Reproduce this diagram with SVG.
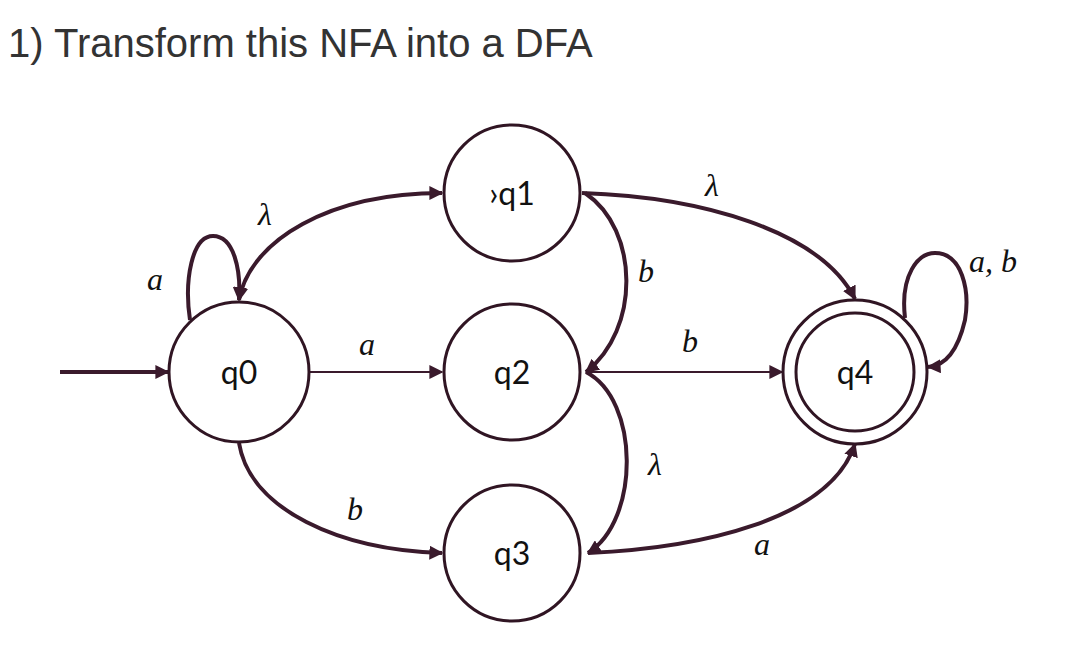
<svg xmlns="http://www.w3.org/2000/svg" width="1066" height="670" viewBox="0 0 1066 670">
<style>
.st{fill:#fff;stroke:#301523;stroke-width:3}
.nl{font-family:Lato,"Open Sans",sans-serif;font-size:32px;fill:#111;text-anchor:middle}
.e{fill:none;stroke:#3a1a2c;stroke-width:4}
.t{fill:none;stroke:#3a1a2c;stroke-width:2}
.lb{font-family:"Liberation Serif",serif;font-style:italic;font-size:32px;fill:#111;text-anchor:middle}
</style>
<defs>
<marker id="ar" viewBox="0 0 10 10" refX="9" refY="5" markerWidth="14" markerHeight="14" markerUnits="userSpaceOnUse" orient="auto-start-reverse"><path d="M0,0 L10,5 L0,10 z" fill="#3a1a2c"/></marker>
</defs>
<rect width="1066" height="670" fill="#fff"/>
<text x="8" y="57" font-family="Liberation Sans, sans-serif" font-size="40" fill="#333">1) Transform this NFA into a DFA</text>
<g id="connectors">
<path class="e" d="M60,372 L168,372" marker-end="url(#ar)"/>
<path class="e" d="M190,320 C184,280 192,236 213,236 C234,236 241,270 239,300" marker-end="url(#ar)"/>
<path class="e" d="M239,300 C250,240 330,193 442,193" marker-start="url(#ar)" marker-end="url(#ar)"/>
<path class="t" d="M309,372 L442,372" marker-end="url(#ar)"/>
<path class="e" d="M239,443 C250,510 340,550 442,553" marker-end="url(#ar)"/>
<path class="e" d="M582,193 C700,197 820,230 855,299" marker-end="url(#ar)"/>
<path class="e" d="M585,193 C640,230 640,330 586,372" marker-end="url(#ar)"/>
<path class="t" d="M586,372 L782,372" marker-end="url(#ar)"/>
<path class="e" d="M586,372 C640,400 640,520 588,553" marker-end="url(#ar)"/>
<path class="e" d="M588,553 C700,548 830,520 855,444" marker-end="url(#ar)"/>
<path class="e" d="M905,318 C900,275 918,253 935,253 C962,253 970,290 965,320 C958,350 945,366 928,367" marker-end="url(#ar)"/>
</g>
<g id="labels">
<text class="lb" x="155" y="290">a</text>
<text class="lb" x="265" y="225">λ</text>
<text class="lb" x="367" y="355">a</text>
<text class="lb" x="355" y="520">b</text>
<text class="lb" x="712" y="196">λ</text>
<text class="lb" x="646" y="282">b</text>
<text class="lb" x="690" y="352">b</text>
<text class="lb" x="655" y="475">λ</text>
<text class="lb" x="762" y="555">a</text>
<text class="lb" x="993" y="272">a, b</text>
</g>
<g id="q0"><circle class="st" cx="239" cy="372" r="70"/><text class="nl" x="239" y="384">q0</text></g>
<g id="q1"><circle class="st" cx="512" cy="193" r="68"/><text class="nl" x="512" y="205">›q1</text></g>
<g id="q2"><circle class="st" cx="512" cy="372" r="68"/><text class="nl" x="512" y="384">q2</text></g>
<g id="q3"><circle class="st" cx="512" cy="553" r="68"/><text class="nl" x="512" y="565">q3</text></g>
<g id="q4"><circle class="st" cx="855" cy="372" r="72"/><circle class="st" cx="855" cy="372" r="59"/><text class="nl" x="855" y="384">q4</text></g>
</svg>
